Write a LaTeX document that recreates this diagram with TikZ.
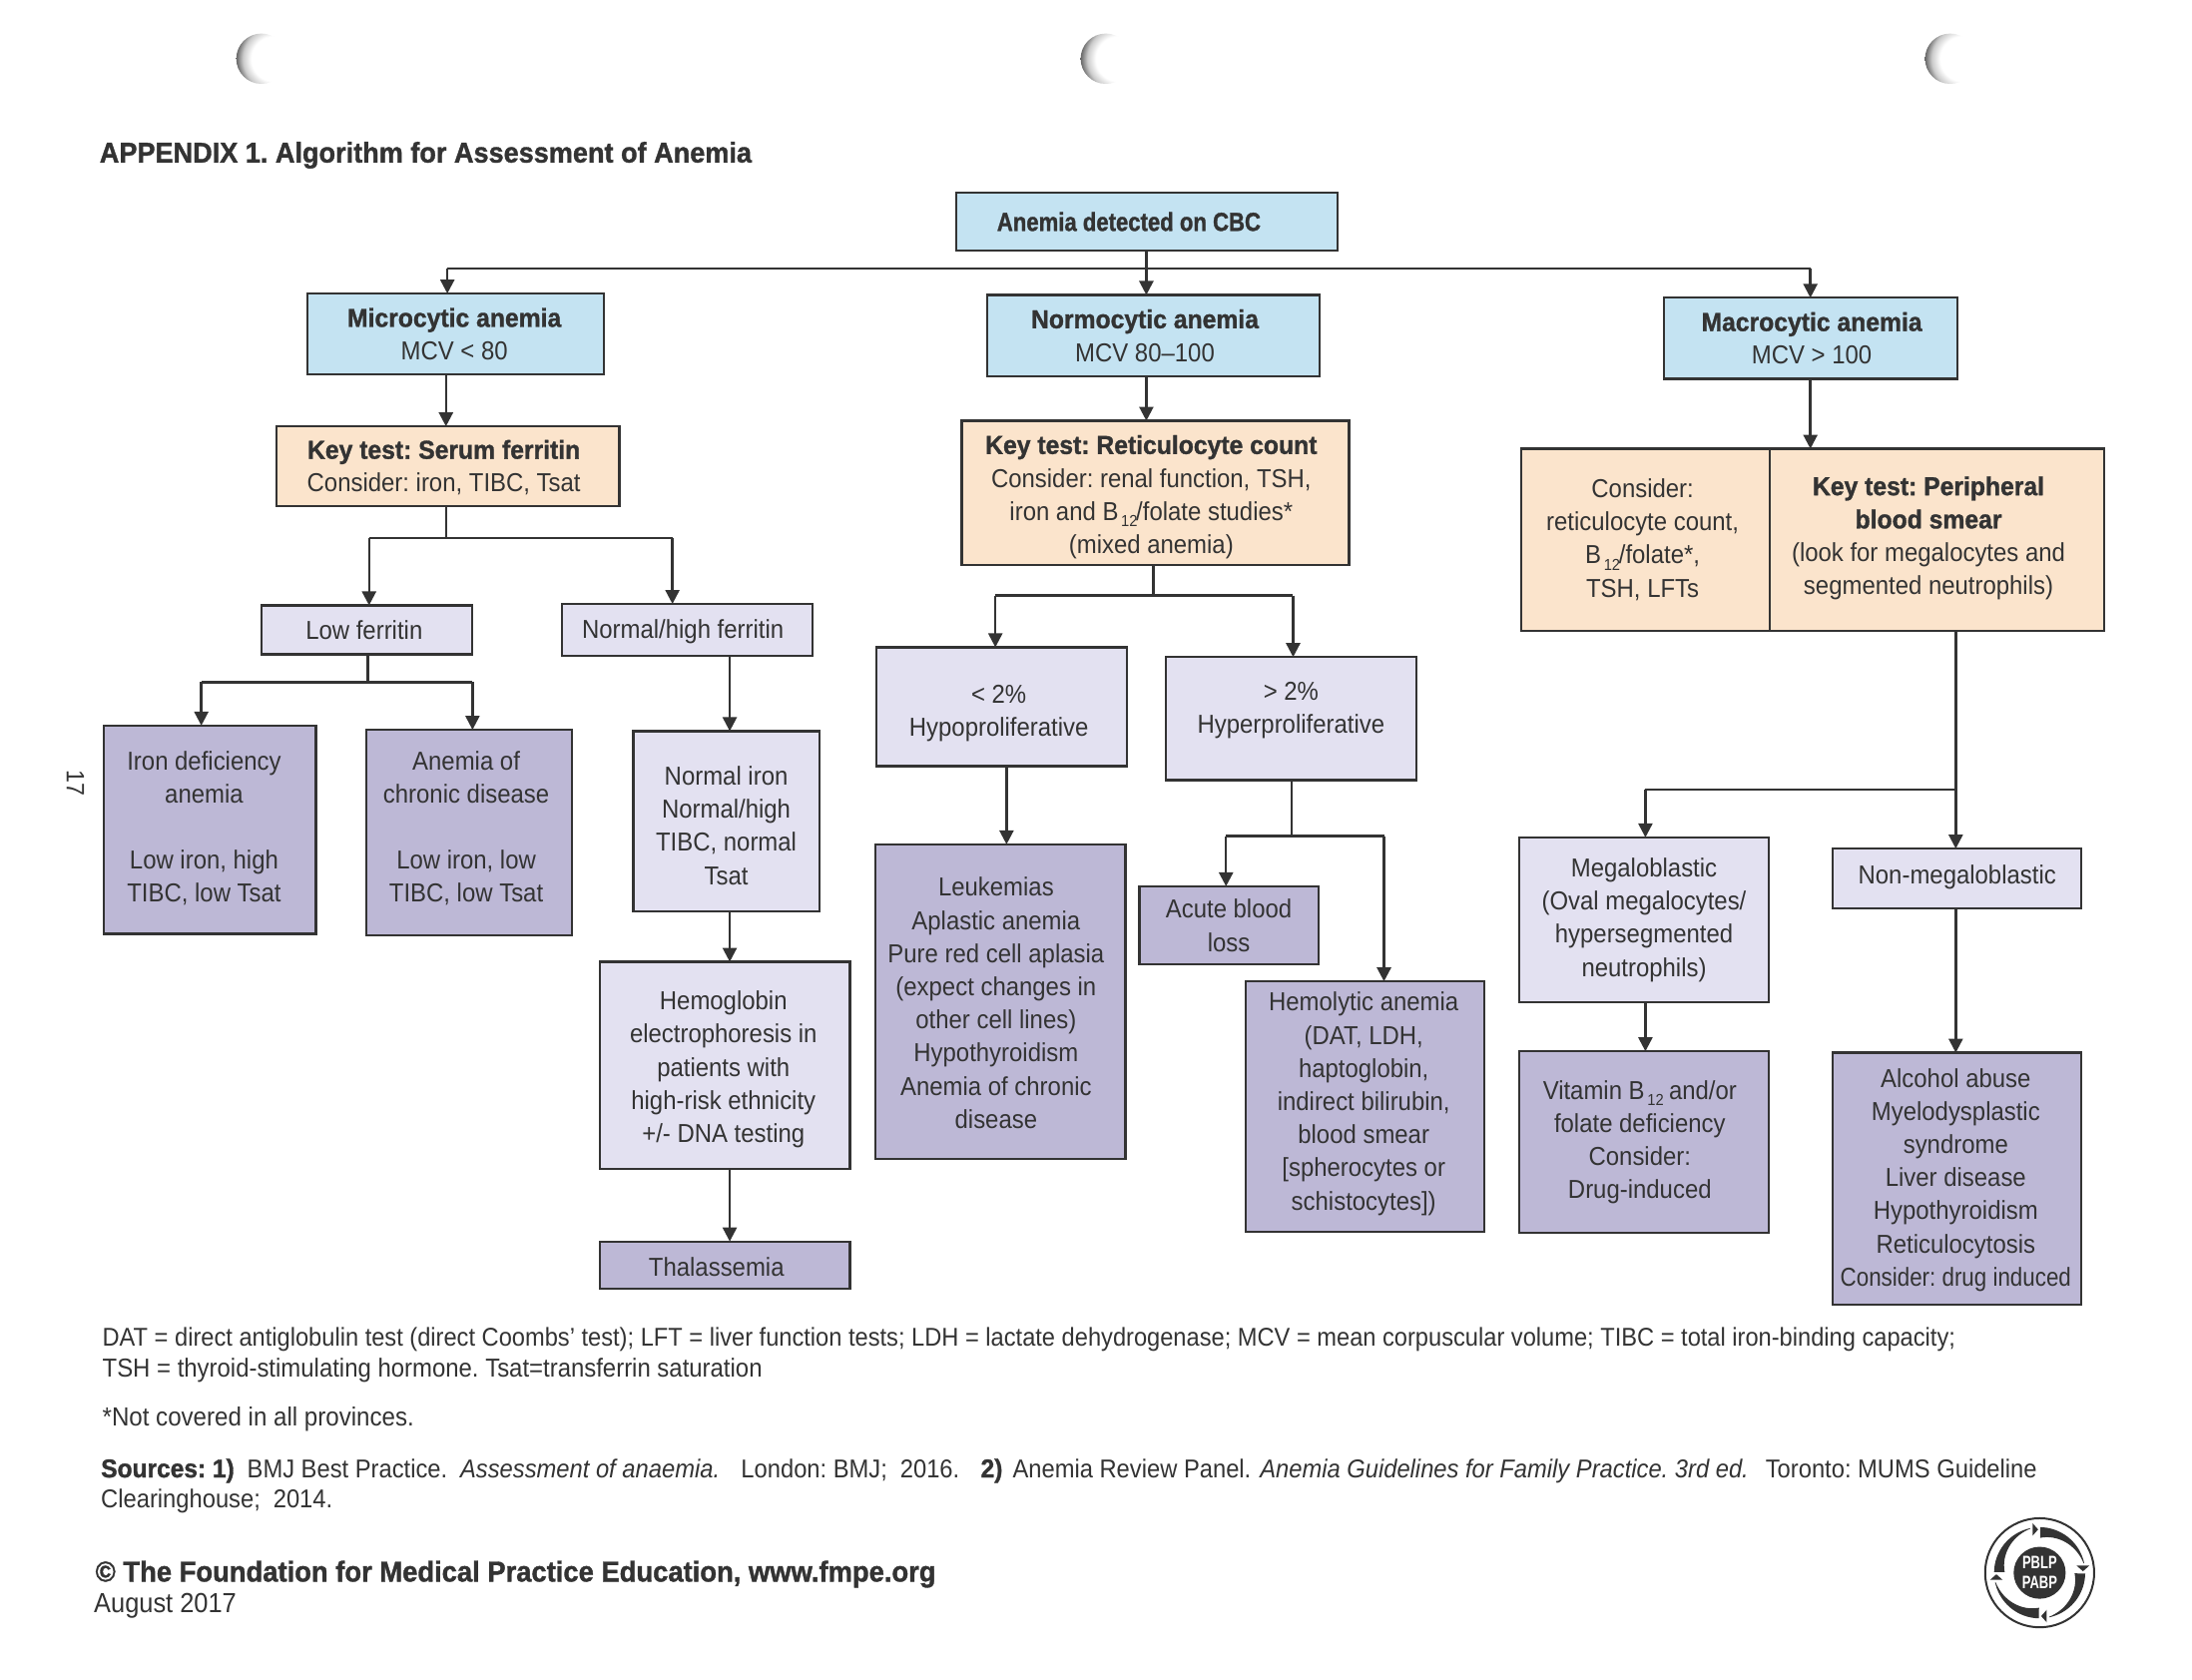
\documentclass[tikz,border=0pt]{standalone}
\usepackage{fontspec}
\setmainfont[FakeStretch=0.92]{Liberation Sans}
\newfontfamily\heavyfont[FakeStretch=0.95,FakeBold=1.2]{Liberation Sans Bold}
\newfontfamily\heavynarrow[FakeStretch=0.85,FakeBold=1.2]{Liberation Sans Bold}
\newfontfamily\bodynarrow[FakeStretch=0.86]{Liberation Sans}
\newfontfamily\logofont[FakeStretch=0.72]{Liberation Sans Bold}
\usetikzlibrary{arrows.meta,calc}
\definecolor{ink}{HTML}{333333}
\definecolor{bluefill}{HTML}{C4E3F2}
\definecolor{orangefill}{HTML}{FBE4CC}
\definecolor{lightfill}{HTML}{E3E1F1}
\definecolor{darkfill}{HTML}{BDB8D6}
\frenchspacing
\newcommand{\hv}[1]{{\heavyfont #1}}
\newcommand{\subtw}{\kern0.1em\raisebox{-0.45ex}{\fontsize{8}{8}\selectfont 12}\kern-0.05em}
% name, x0, y0, x1, y1, style, text dx, text dy, text
\newcommand{\bx}[9]{%
  \pgfmathsetmacro\bxcx{(#2+#4)/2}\pgfmathsetmacro\bxcy{(#3+#5)/2}%
  \pgfmathsetmacro\bxw{(#4-#2)*0.7}\pgfmathsetmacro\bxh{(#5-#3)*0.7}%
  \node[boxbase,#6,minimum width=\bxw pt,minimum height=\bxh pt] (#1) at (\bxcx,\bxcy) {};
  \node[boxtext] (#1-t) at ($(#1.center)+(#7,#8)$) {#9};}
\pgfdeclareradialshading{punchshade}{\pgfpoint{0bp}{0bp}}{%
  color(0bp)=(white); color(15bp)=(white); color(20.5bp)=(black!20); color(25bp)=(black!60); color(50bp)=(black!60)}
\newcommand{\holepunch}[2]{%
  \begin{scope}
    \clip (#1,#2) circle (18);
    \shade[shading=punchshade] (#1+9,#2) circle (27);
  \end{scope}}
\tikzset{
  boxbase/.style={draw=ink,line width=1.1pt,inner sep=0pt,outer sep=0pt},
  boxtext/.style={align=center,inner sep=0pt,outer sep=0pt,text=ink,
    font=\fontsize{13}{16.6}\selectfont},
  bluebox/.style={fill=bluefill},
  orangebox/.style={fill=orangefill},
  lightbox/.style={fill=lightfill},
  darkbox/.style={fill=darkfill},
  wire/.style={draw=ink,line width=1.2pt},
  arr/.style={wire,-{Triangle[length=7pt,width=7pt]}},
  caption/.style={anchor=west,text=ink,inner sep=0pt,font=\fontsize{12.85}{16}\selectfont},
}
\begin{document}
\begin{tikzpicture}[x=0.7pt,y=-0.7pt]
\useasboundingbox (0,0) rectangle (1568,1201.7);
\fill[white] (0,0) rectangle (1568,1201.7);

\holepunch{187}{42}
\holepunch{791}{42}
\holepunch{1395}{42}

\node[caption,font=\fontsize{14.25}{16}\selectfont] (title) at (71,111) {\hv{APPENDIX 1. Algorithm for Assessment of Anemia}};
\node[text=ink,rotate=-90,font=\fontsize{12.6}{16}\selectfont] (pageno) at (54,560) {17};

\bx{top}{684}{138}{957}{179}{bluebox}{-13}{0}{{\heavynarrow Anemia detected on CBC}}
\bx{micro}{220}{210}{432}{268}{bluebox}{-1}{0}{\hv{Microcytic anemia}\\MCV < 80}
\bx{normo}{706}{211}{944}{269}{bluebox}{-6}{0}{\hv{Normocytic anemia}\\MCV 80--100}
\bx{macro}{1190}{213}{1400}{271}{bluebox}{1}{0}{\hv{Macrocytic anemia}\\MCV > 100}

\bx{serum}{198}{305}{443}{362}{orangebox}{-3}{1}{\hv{Key test: Serum ferritin}\\Consider: iron, TIBC, Tsat}
\bx{retic}{688}{301}{965}{404}{orangebox}{-3}{3}{\hv{Key test: Reticulocyte count}\\Consider: renal function, TSH,\\iron and B\subtw/folate studies*\\(mixed anemia)}
\bx{cons}{1088}{321}{1266}{451}{orangebox}{-2}{0}{Consider:\\reticulocyte count,\\B\subtw/folate*,\\TSH, LFTs}
\bx{smear}{1266}{321}{1505}{451}{orangebox}{-6}{-1}{\hv{Key test: Peripheral}\\\hv{blood smear}\\(look for megalocytes and\\segmented neutrophils)}

\bx{lowf}{187}{433}{338}{468}{lightbox}{-2}{0}{Low ferritin}
\bx{highf}{402}{432}{581}{469}{lightbox}{-3}{1}{Normal/high ferritin}
\bx{hypo}{627}{463}{806}{548}{lightbox}{-2}{5}{< 2\%\\Hypoproliferative}
\bx{hyper}{834}{470}{1013}{558}{lightbox}{0}{-6}{> 2\%\\Hyperproliferative}

\bx{iron}{74}{519}{226}{668}{darkbox}{-4}{-1}{Iron deficiency\\anemia\\[16.6pt]Low iron, high\\TIBC, low Tsat}
\bx{acd}{262}{522}{409}{669}{darkbox}{-2}{-3}{Anemia of\\chronic disease\\[16.6pt]Low iron, low\\TIBC, low Tsat}
\bx{niron}{453}{523}{586}{652}{lightbox}{0}{3}{Normal iron\\Normal/high\\TIBC, normal\\Tsat}
\bx{hb}{429}{688}{608}{836}{lightbox}{-1}{3}{Hemoglobin\\electrophoresis in\\patients with\\high-risk ethnicity\\+/- DNA testing}
\bx{thal}{429}{888}{608}{922}{darkbox}{-6}{1}{Thalassemia}
\bx{leuk}{626}{604}{805}{829}{darkbox}{-3}{1}{Leukemias\\Aplastic anemia\\Pure red cell aplasia\\(expect changes in\\other cell lines)\\Hypothyroidism\\Anemia of chronic\\disease}
\bx{acute}{815}{634}{943}{690}{darkbox}{0}{0}{Acute blood\\loss}
\bx{hemo}{891}{702}{1062}{881}{darkbox}{-1}{-2}{Hemolytic anemia\\(DAT, LDH,\\haptoglobin,\\indirect bilirubin,\\blood smear\\{[}spherocytes or\\schistocytes{]})}
\bx{mega}{1087}{599}{1265}{717}{lightbox}{0}{0}{Megaloblastic\\(Oval megalocytes/\\hypersegmented\\neutrophils)}
\bx{nonmega}{1311}{607}{1489}{650}{lightbox}{0}{-1}{Non-megaloblastic}
\bx{vit}{1087}{752}{1265}{882}{darkbox}{-3}{0}{Vitamin B\subtw{} and/or\\folate deficiency\\Consider:\\Drug-induced}
\bx{alc}{1311}{753}{1489}{933}{darkbox}{-1}{1}{Alcohol abuse\\Myelodysplastic\\syndrome\\Liver disease\\Hypothyroidism\\Reticulocytosis\\{\bodynarrow Consider: drug induced}}

% junction points
\coordinate (jtopm) at (820,192);
\coordinate (jtopl) at (320,192);
\coordinate (jtopr) at (1295,192);
\coordinate (jmicro) at (319,268);
\coordinate (jserum) at (319,385);
\coordinate (jserl) at (264,385);
\coordinate (jserr) at (481,385);
\coordinate (jlow) at (263,488);
\coordinate (jlowl) at (144,488);
\coordinate (jlowr) at (338,488);
\coordinate (jn) at (522,469);
\coordinate (jretic) at (825,426);
\coordinate (jrl) at (712,426);
\coordinate (jrr) at (925,426);
\coordinate (jhypo) at (720,548);
\coordinate (jhyper) at (924,598);
\coordinate (jhl) at (877,598);
\coordinate (jhr) at (990,598);
\coordinate (jsmear) at (1399,565);
\coordinate (jml) at (1177,565);

\draw[arr] (top.south -| jtopm) -- (normo.north -| jtopm);
\draw[wire] (jtopl) -- (jtopr);
\draw[arr] (jtopl) -- (micro.north -| jtopl);
\draw[arr] (jtopr) -- (macro.north -| jtopr);

\draw[arr] (jmicro) -- (serum.north -| jmicro);
\draw[wire] (serum.south -| jserum) -- (jserum);
\draw[wire] (jserl) -- (jserr);
\draw[arr] (jserl) -- (jserl |- lowf.north);
\draw[arr] (jserr) -- (jserr |- highf.north);

\draw[wire] (lowf.south -| jlow) -- (jlow);
\draw[wire] (jlowl) -- (jlowr);
\draw[arr] (jlowl) -- (iron.north -| jlowl);
\draw[arr] (jlowr) -- (acd.north -| jlowr);

\draw[arr] (highf.south -| jn) -- (niron.north -| jn);
\draw[arr] (niron.south -| jn) -- (hb.north -| jn);
\draw[arr] (hb.south -| jn) -- (thal.north -| jn);

\draw[arr] (normo.south -| jtopm) -- (retic.north -| jtopm);
\draw[wire] (retic.south -| jretic) -- (jretic);
\draw[wire] (jrl) -- (jrr);
\draw[arr] (jrl) -- (hypo.north -| jrl);
\draw[arr] (jrr) -- (hyper.north -| jrr);

\draw[arr] (hypo.south -| jhypo) -- (leuk.north -| jhypo);
\draw[wire] (hyper.south -| jhyper) -- (jhyper);
\draw[wire] (jhl) -- (jhr);
\draw[arr] (jhl) -- (acute.north -| jhl);
\draw[arr] (jhr) -- (hemo.north -| jhr);

\draw[arr] (macro.south -| jtopr) -- (smear.north -| jtopr);
\draw[arr] (smear.south -| jsmear) -- (nonmega.north -| jsmear);
\draw[wire] (jsmear) -- (jml);
\draw[arr] (jml) -- (mega.north -| jml);
\draw[arr] (mega.south -| jml) -- (vit.north -| jml);
\draw[arr] (nonmega.south -| jsmear) -- (alc.north -| jsmear);

% footer
\node[caption] (f1) at (73,958) {DAT = direct antiglobulin test (direct Coombs' test); LFT = liver function tests; LDH = lactate dehydrogenase; MCV = mean corpuscular volume; TIBC = total iron-binding capacity;};
\node[caption,font=\fontsize{13}{16}\selectfont] (f2) at (73,980) {TSH = thyroid-stimulating hormone. Tsat=transferrin saturation};
\node[caption,font=\fontsize{13.1}{16}\selectfont] (f3) at (73,1015) {*Not covered in all provinces.};
\node[caption,font=\fontsize{12.9}{16}\selectfont] (f4) at (72,1052) {\hv{Sources: 1)}\enspace BMJ Best Practice.\enspace \textit{Assessment of anaemia.}\enspace\kern4.2pt London: BMJ;\enspace 2016.\enspace\kern4.2pt \hv{2)}\enspace\kern-1.4pt Anemia Review Panel.\enspace\kern-2pt \textit{Anemia Guidelines for Family Practice. 3rd ed.}\enspace\kern2pt Toronto: MUMS Guideline};
\node[caption,font=\fontsize{12.9}{16}\selectfont] (f5) at (72,1074) {Clearinghouse;\enspace 2014.};
\node[caption,font=\fontsize{14.4}{16}\selectfont] (f6) at (68,1126) {\hv{© The Foundation for Medical Practice Education, www.fmpe.org}};
\node[caption,font=\fontsize{13.8}{16}\selectfont] (f7) at (67,1149) {August 2017};

% logo
\begin{scope}[shift={(1459,1125)},y=0.7pt]
  \draw[ink,line width=1pt] (0,0) circle (39);
  \fill[ink] (0,0) circle (18.6);
  \foreach \r in {0,90,180,270}{
    \begin{scope}[rotate=\r]
      \fill[ink] plot[domain=89:12,samples=20] ({(32.6)*cos(\x)},{(32.6)*sin(\x)})
        -- plot[domain=12:89,samples=20] ({(32.2-(\x-12)/77*7.2)*cos(\x)},{(32.2-(\x-12)/77*7.2)*sin(\x)}) -- cycle;
      \fill[ink] ($(2:31)+(-4.5,4)$) -- ($(2:31)+(4.5,4)$) -- (2:31) -- cycle;
    \end{scope}
  }
  \node[text=white,align=center,inner sep=0pt,font=\fontsize{9}{9.8}\logofont] (logo) at (0,0) {PBLP\\PABP};
\end{scope}
\end{tikzpicture}
\end{document}
